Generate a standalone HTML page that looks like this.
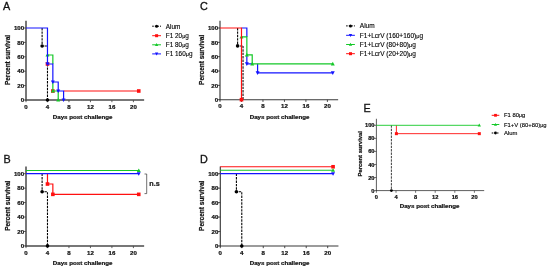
<!DOCTYPE html>
<html lang="en"><head><meta charset="utf-8"><title>Survival curves</title>
<style>
html,body{margin:0;padding:0;background:#fff;}
body{width:550px;height:269px;overflow:hidden;}
svg{display:block;font-family:"Liberation Sans",sans-serif;}
</style></head><body>
<svg width="550" height="269" viewBox="0 0 550 269">
<rect width="550" height="269" fill="#fff"/>
<path d="M26.00 20.80V100.75" stroke="#4a4a4a" stroke-width="1.5" fill="none"/>
<path d="M25.25 100.00H144.14" stroke="#4a4a4a" stroke-width="1.5" fill="none"/>
<path d="M23.80 100.00H26.00" stroke="#4a4a4a" stroke-width="0.9"/>
<text x="24.10" y="102.20" font-size="6.1" font-weight="bold" stroke="#111" stroke-width="0.22" text-anchor="end" fill="#111">0</text>
<path d="M23.80 85.60H26.00" stroke="#4a4a4a" stroke-width="0.9"/>
<text x="24.10" y="87.80" font-size="6.1" font-weight="bold" stroke="#111" stroke-width="0.22" text-anchor="end" fill="#111">20</text>
<path d="M23.80 71.20H26.00" stroke="#4a4a4a" stroke-width="0.9"/>
<text x="24.10" y="73.40" font-size="6.1" font-weight="bold" stroke="#111" stroke-width="0.22" text-anchor="end" fill="#111">40</text>
<path d="M23.80 56.80H26.00" stroke="#4a4a4a" stroke-width="0.9"/>
<text x="24.10" y="59.00" font-size="6.1" font-weight="bold" stroke="#111" stroke-width="0.22" text-anchor="end" fill="#111">60</text>
<path d="M23.80 42.40H26.00" stroke="#4a4a4a" stroke-width="0.9"/>
<text x="24.10" y="44.60" font-size="6.1" font-weight="bold" stroke="#111" stroke-width="0.22" text-anchor="end" fill="#111">80</text>
<path d="M23.80 28.00H26.00" stroke="#4a4a4a" stroke-width="0.9"/>
<text x="24.10" y="30.20" font-size="6.1" font-weight="bold" stroke="#111" stroke-width="0.22" text-anchor="end" fill="#111">100</text>
<path d="M26.00 100.00V102.20" stroke="#4a4a4a" stroke-width="0.9"/>
<text x="26.00" y="108.60" font-size="6.1" font-weight="bold" stroke="#111" stroke-width="0.22" text-anchor="middle" fill="#111">0</text>
<path d="M47.48 100.00V102.20" stroke="#4a4a4a" stroke-width="0.9"/>
<text x="47.48" y="108.60" font-size="6.1" font-weight="bold" stroke="#111" stroke-width="0.22" text-anchor="middle" fill="#111">4</text>
<path d="M68.96 100.00V102.20" stroke="#4a4a4a" stroke-width="0.9"/>
<text x="68.96" y="108.60" font-size="6.1" font-weight="bold" stroke="#111" stroke-width="0.22" text-anchor="middle" fill="#111">8</text>
<path d="M90.44 100.00V102.20" stroke="#4a4a4a" stroke-width="0.9"/>
<text x="90.44" y="108.60" font-size="6.1" font-weight="bold" stroke="#111" stroke-width="0.22" text-anchor="middle" fill="#111">12</text>
<path d="M111.92 100.00V102.20" stroke="#4a4a4a" stroke-width="0.9"/>
<text x="111.92" y="108.60" font-size="6.1" font-weight="bold" stroke="#111" stroke-width="0.22" text-anchor="middle" fill="#111">16</text>
<path d="M133.40 100.00V102.20" stroke="#4a4a4a" stroke-width="0.9"/>
<text x="133.40" y="108.60" font-size="6.1" font-weight="bold" stroke="#111" stroke-width="0.22" text-anchor="middle" fill="#111">20</text>
<text x="82.65" y="119.10" font-size="6.2" font-weight="bold" stroke="#111" stroke-width="0.22" text-anchor="middle" fill="#111">Days post challenge</text>
<text transform="translate(9.80 59.97) rotate(-90)" x="0" y="0" font-size="6.5" font-weight="bold" stroke="#111" stroke-width="0.22" text-anchor="middle" fill="#111">Percent survival</text>
<text x="3.0" y="10.4" font-size="10.8" fill="#111" stroke="#111" stroke-width="0.3">A</text>
<path d="M42.11 28.00L42.11 46.00L47.48 46.00M47.48 64.00L47.48 100.00" fill="none" stroke="#000" stroke-width="1.08" stroke-dasharray="2.4 1"/>
<circle cx="42.11" cy="46.00" r="1.80" fill="#000"/>
<circle cx="47.48" cy="100.00" r="1.80" fill="#000"/>
<path d="M63.59 91.00L138.77 91.00" fill="none" stroke="#ff1010" stroke-width="1.20"/>
<rect x="45.68" y="62.20" width="3.60" height="3.60" fill="#ff1010"/>
<rect x="51.05" y="89.20" width="3.60" height="3.60" fill="#ff1010"/>
<rect x="136.97" y="89.20" width="3.60" height="3.60" fill="#ff1010"/>
<path d="M47.48 55.00L52.85 55.00L52.85 64.00M52.85 82.00L52.85 91.00L58.22 91.00L58.22 100.00" fill="none" stroke="#14c828" stroke-width="1.20"/>
<path d="M47.48 52.93L49.46 56.53L45.50 56.53Z" fill="#14c828"/>
<path d="M52.85 88.93L54.83 92.53L50.87 92.53Z" fill="#14c828"/>
<path d="M58.22 97.93L60.20 101.53L56.24 101.53Z" fill="#14c828"/>
<path d="M26.00 28.00L47.48 28.00L47.48 64.00L52.85 64.00L52.85 82.00L58.22 82.00L58.22 91.00L63.59 91.00L63.59 100.00" fill="none" stroke="#1414ff" stroke-width="1.20"/>
<path d="M47.48 66.07L49.46 62.47L45.50 62.47Z" fill="#1414ff"/>
<path d="M52.85 84.07L54.83 80.47L50.87 80.47Z" fill="#1414ff"/>
<path d="M58.22 93.07L60.20 89.47L56.24 89.47Z" fill="#1414ff"/>
<path d="M63.59 102.07L65.57 98.47L61.61 98.47Z" fill="#1414ff"/>
<path d="M152.20 26.20H161.00" stroke="#000" stroke-width="1" stroke-dasharray="1.6 1"/>
<circle cx="156.60" cy="26.20" r="1.50" fill="#000"/>
<text x="165.8" y="28.50" font-size="6.4" fill="#000" stroke="#000" stroke-width="0.12">Alum</text>
<path d="M152.20 35.70H161.00" stroke="#ff1010" stroke-width="1"/>
<rect x="155.10" y="34.20" width="3.00" height="3.00" fill="#ff1010"/>
<text x="165.8" y="38.00" font-size="6.4" fill="#000" stroke="#000" stroke-width="0.12">F1 20<tspan font-size="5.50">μ</tspan>g</text>
<path d="M152.20 44.80H161.00" stroke="#14c828" stroke-width="1"/>
<path d="M156.60 43.07L158.25 46.07L154.95 46.07Z" fill="#14c828"/>
<text x="165.8" y="47.10" font-size="6.4" fill="#000" stroke="#000" stroke-width="0.12">F1 80<tspan font-size="5.50">μ</tspan>g</text>
<path d="M152.20 53.90H161.00" stroke="#1414ff" stroke-width="1"/>
<path d="M156.60 55.62L158.25 52.62L154.95 52.62Z" fill="#1414ff"/>
<text x="165.8" y="56.20" font-size="6.4" fill="#000" stroke="#000" stroke-width="0.12">F1 160<tspan font-size="5.50">μ</tspan>g</text>
<path d="M220.00 20.83V100.28" stroke="#383838" stroke-width="1.15" fill="none"/>
<path d="M219.43 99.70H338.14" stroke="#383838" stroke-width="1.15" fill="none"/>
<path d="M217.80 99.70H220.00" stroke="#383838" stroke-width="0.9"/>
<text x="218.10" y="101.90" font-size="6.1" font-weight="bold" stroke="#111" stroke-width="0.22" text-anchor="end" fill="#111">0</text>
<path d="M217.80 85.36H220.00" stroke="#383838" stroke-width="0.9"/>
<text x="218.10" y="87.56" font-size="6.1" font-weight="bold" stroke="#111" stroke-width="0.22" text-anchor="end" fill="#111">20</text>
<path d="M217.80 71.02H220.00" stroke="#383838" stroke-width="0.9"/>
<text x="218.10" y="73.22" font-size="6.1" font-weight="bold" stroke="#111" stroke-width="0.22" text-anchor="end" fill="#111">40</text>
<path d="M217.80 56.68H220.00" stroke="#383838" stroke-width="0.9"/>
<text x="218.10" y="58.88" font-size="6.1" font-weight="bold" stroke="#111" stroke-width="0.22" text-anchor="end" fill="#111">60</text>
<path d="M217.80 42.34H220.00" stroke="#383838" stroke-width="0.9"/>
<text x="218.10" y="44.54" font-size="6.1" font-weight="bold" stroke="#111" stroke-width="0.22" text-anchor="end" fill="#111">80</text>
<path d="M217.80 28.00H220.00" stroke="#383838" stroke-width="0.9"/>
<text x="218.10" y="30.20" font-size="6.1" font-weight="bold" stroke="#111" stroke-width="0.22" text-anchor="end" fill="#111">100</text>
<path d="M220.00 99.70V101.90" stroke="#383838" stroke-width="0.9"/>
<text x="220.00" y="108.30" font-size="6.1" font-weight="bold" stroke="#111" stroke-width="0.22" text-anchor="middle" fill="#111">0</text>
<path d="M241.48 99.70V101.90" stroke="#383838" stroke-width="0.9"/>
<text x="241.48" y="108.30" font-size="6.1" font-weight="bold" stroke="#111" stroke-width="0.22" text-anchor="middle" fill="#111">4</text>
<path d="M262.96 99.70V101.90" stroke="#383838" stroke-width="0.9"/>
<text x="262.96" y="108.30" font-size="6.1" font-weight="bold" stroke="#111" stroke-width="0.22" text-anchor="middle" fill="#111">8</text>
<path d="M284.44 99.70V101.90" stroke="#383838" stroke-width="0.9"/>
<text x="284.44" y="108.30" font-size="6.1" font-weight="bold" stroke="#111" stroke-width="0.22" text-anchor="middle" fill="#111">12</text>
<path d="M305.92 99.70V101.90" stroke="#383838" stroke-width="0.9"/>
<text x="305.92" y="108.30" font-size="6.1" font-weight="bold" stroke="#111" stroke-width="0.22" text-anchor="middle" fill="#111">16</text>
<path d="M327.40 99.70V101.90" stroke="#383838" stroke-width="0.9"/>
<text x="327.40" y="108.30" font-size="6.1" font-weight="bold" stroke="#111" stroke-width="0.22" text-anchor="middle" fill="#111">20</text>
<text x="279.60" y="118.80" font-size="6.2" font-weight="bold" stroke="#111" stroke-width="0.22" text-anchor="middle" fill="#111">Days post challenge</text>
<text transform="translate(204.20 59.83) rotate(-90)" x="0" y="0" font-size="6.5" font-weight="bold" stroke="#111" stroke-width="0.22" text-anchor="middle" fill="#111">Percent survival</text>
<text x="199.9" y="10.4" font-size="10.8" fill="#111" stroke="#111" stroke-width="0.3">C</text>
<path d="M237.61 28.00L237.61 45.92L243.25 45.92" fill="none" stroke="#000" stroke-width="1.08" stroke-dasharray="2.4 1"/>
<circle cx="237.61" cy="45.92" r="1.80" fill="#000"/>
<path d="M243.04 45.92L243.04 99.70" fill="none" stroke="#3c3c3c" stroke-width="1.35" stroke-dasharray="2.4 1"/>
<path d="M241.48 28.00L246.85 28.00L246.85 36.96M246.85 54.89L246.85 63.85L252.22 63.85M257.59 63.85L257.59 72.81L332.77 72.81" fill="none" stroke="#1414ff" stroke-width="1.20"/>
<path d="M246.85 65.92L248.83 62.32L244.87 62.32Z" fill="#1414ff"/>
<path d="M257.59 74.88L259.57 71.28L255.61 71.28Z" fill="#1414ff"/>
<path d="M332.77 74.88L334.75 71.28L330.79 71.28Z" fill="#1414ff"/>
<path d="M241.48 36.96L246.85 36.96L246.85 54.89L252.22 54.89L252.22 63.85L332.77 63.85" fill="none" stroke="#14c828" stroke-width="1.20"/>
<path d="M241.48 34.89L243.46 38.49L239.50 38.49Z" fill="#14c828"/>
<path d="M246.85 52.82L248.83 56.42L244.87 56.42Z" fill="#14c828"/>
<path d="M252.22 61.78L254.20 65.38L250.24 65.38Z" fill="#14c828"/>
<path d="M332.77 61.78L334.75 65.38L330.79 65.38Z" fill="#14c828"/>
<path d="M220.00 28.00L241.48 28.00L241.48 99.70" fill="none" stroke="#ff1010" stroke-width="1.20"/>
<rect x="239.68" y="97.90" width="3.60" height="3.60" fill="#ff1010"/>
<path d="M346.10 25.90H354.90" stroke="#000" stroke-width="1" stroke-dasharray="1.6 1"/>
<circle cx="350.50" cy="25.90" r="1.50" fill="#000"/>
<text x="359.8" y="28.24" font-size="6.5" fill="#000" stroke="#000" stroke-width="0.12">Alum</text>
<path d="M346.10 35.30H354.90" stroke="#1414ff" stroke-width="1"/>
<path d="M350.50 37.02L352.15 34.02L348.85 34.02Z" fill="#1414ff"/>
<text x="359.8" y="37.64" font-size="6.5" fill="#000" stroke="#000" stroke-width="0.12">F1+LcrV (160+160)<tspan font-size="5.59">μ</tspan>g</text>
<path d="M346.10 44.50H354.90" stroke="#14c828" stroke-width="1"/>
<path d="M350.50 42.77L352.15 45.77L348.85 45.77Z" fill="#14c828"/>
<text x="359.8" y="46.84" font-size="6.5" fill="#000" stroke="#000" stroke-width="0.12">F1+LcrV (80+80)<tspan font-size="5.59">μ</tspan>g</text>
<path d="M346.10 53.70H354.90" stroke="#ff1010" stroke-width="1"/>
<rect x="349.00" y="52.20" width="3.00" height="3.00" fill="#ff1010"/>
<text x="359.8" y="56.04" font-size="6.5" fill="#000" stroke="#000" stroke-width="0.12">F1+LcrV (20+20)<tspan font-size="5.59">μ</tspan>g</text>
<path d="M26.00 166.48V246.65" stroke="#4a4a4a" stroke-width="1.5" fill="none"/>
<path d="M25.25 245.90H144.14" stroke="#4a4a4a" stroke-width="1.5" fill="none"/>
<path d="M23.80 245.90H26.00" stroke="#4a4a4a" stroke-width="0.9"/>
<text x="24.10" y="248.10" font-size="6.1" font-weight="bold" stroke="#111" stroke-width="0.22" text-anchor="end" fill="#111">0</text>
<path d="M23.80 231.46H26.00" stroke="#4a4a4a" stroke-width="0.9"/>
<text x="24.10" y="233.66" font-size="6.1" font-weight="bold" stroke="#111" stroke-width="0.22" text-anchor="end" fill="#111">20</text>
<path d="M23.80 217.02H26.00" stroke="#4a4a4a" stroke-width="0.9"/>
<text x="24.10" y="219.22" font-size="6.1" font-weight="bold" stroke="#111" stroke-width="0.22" text-anchor="end" fill="#111">40</text>
<path d="M23.80 202.58H26.00" stroke="#4a4a4a" stroke-width="0.9"/>
<text x="24.10" y="204.78" font-size="6.1" font-weight="bold" stroke="#111" stroke-width="0.22" text-anchor="end" fill="#111">60</text>
<path d="M23.80 188.14H26.00" stroke="#4a4a4a" stroke-width="0.9"/>
<text x="24.10" y="190.34" font-size="6.1" font-weight="bold" stroke="#111" stroke-width="0.22" text-anchor="end" fill="#111">80</text>
<path d="M23.80 173.70H26.00" stroke="#4a4a4a" stroke-width="0.9"/>
<text x="24.10" y="175.90" font-size="6.1" font-weight="bold" stroke="#111" stroke-width="0.22" text-anchor="end" fill="#111">100</text>
<path d="M26.00 245.90V248.10" stroke="#4a4a4a" stroke-width="0.9"/>
<text x="26.00" y="254.50" font-size="6.1" font-weight="bold" stroke="#111" stroke-width="0.22" text-anchor="middle" fill="#111">0</text>
<path d="M47.48 245.90V248.10" stroke="#4a4a4a" stroke-width="0.9"/>
<text x="47.48" y="254.50" font-size="6.1" font-weight="bold" stroke="#111" stroke-width="0.22" text-anchor="middle" fill="#111">4</text>
<path d="M68.96 245.90V248.10" stroke="#4a4a4a" stroke-width="0.9"/>
<text x="68.96" y="254.50" font-size="6.1" font-weight="bold" stroke="#111" stroke-width="0.22" text-anchor="middle" fill="#111">8</text>
<path d="M90.44 245.90V248.10" stroke="#4a4a4a" stroke-width="0.9"/>
<text x="90.44" y="254.50" font-size="6.1" font-weight="bold" stroke="#111" stroke-width="0.22" text-anchor="middle" fill="#111">12</text>
<path d="M111.92 245.90V248.10" stroke="#4a4a4a" stroke-width="0.9"/>
<text x="111.92" y="254.50" font-size="6.1" font-weight="bold" stroke="#111" stroke-width="0.22" text-anchor="middle" fill="#111">16</text>
<path d="M133.40 245.90V248.10" stroke="#4a4a4a" stroke-width="0.9"/>
<text x="133.40" y="254.50" font-size="6.1" font-weight="bold" stroke="#111" stroke-width="0.22" text-anchor="middle" fill="#111">20</text>
<text x="82.65" y="265.00" font-size="6.2" font-weight="bold" stroke="#111" stroke-width="0.22" text-anchor="middle" fill="#111">Days post challenge</text>
<text transform="translate(9.80 205.76) rotate(-90)" x="0" y="0" font-size="6.5" font-weight="bold" stroke="#111" stroke-width="0.22" text-anchor="middle" fill="#111">Percent survival</text>
<text x="3.6" y="163.1" font-size="10.8" fill="#111" stroke="#111" stroke-width="0.3">B</text>
<path d="M42.11 173.70L42.11 191.75L47.48 191.75L47.48 245.90" fill="none" stroke="#000" stroke-width="1.08" stroke-dasharray="2.4 1"/>
<circle cx="42.11" cy="191.75" r="1.80" fill="#000"/>
<circle cx="47.48" cy="245.90" r="1.80" fill="#000"/>
<path d="M47.48 173.70L47.48 184.02L52.85 184.02L52.85 194.35L138.77 194.35" fill="none" stroke="#ff1010" stroke-width="1.20"/>
<rect x="45.68" y="182.22" width="3.60" height="3.60" fill="#ff1010"/>
<rect x="51.05" y="192.55" width="3.60" height="3.60" fill="#ff1010"/>
<rect x="136.97" y="192.55" width="3.60" height="3.60" fill="#ff1010"/>
<path d="M26.00 170.52L138.77 170.52" fill="none" stroke="#14c828" stroke-width="1.20"/>
<path d="M138.77 168.45L140.75 172.05L136.79 172.05Z" fill="#14c828"/>
<path d="M26.00 173.70L138.77 173.70" fill="none" stroke="#1414ff" stroke-width="1.20"/>
<path d="M138.77 175.77L140.75 172.17L136.79 172.17Z" fill="#1414ff"/>
<path d="M144.5 174H146.7V193.6H144.5" fill="none" stroke="#333" stroke-width="0.7"/>
<text x="149.3" y="186.2" font-size="7.2" font-weight="bold" stroke="#111" stroke-width="0.22" fill="#222">n.s</text>
<path d="M220.30 166.47V246.52" stroke="#383838" stroke-width="1.15" fill="none"/>
<path d="M219.73 245.95H338.44" stroke="#383838" stroke-width="1.15" fill="none"/>
<path d="M218.10 245.95H220.30" stroke="#383838" stroke-width="0.9"/>
<text x="218.40" y="248.15" font-size="6.1" font-weight="bold" stroke="#111" stroke-width="0.22" text-anchor="end" fill="#111">0</text>
<path d="M218.10 231.50H220.30" stroke="#383838" stroke-width="0.9"/>
<text x="218.40" y="233.70" font-size="6.1" font-weight="bold" stroke="#111" stroke-width="0.22" text-anchor="end" fill="#111">20</text>
<path d="M218.10 217.05H220.30" stroke="#383838" stroke-width="0.9"/>
<text x="218.40" y="219.25" font-size="6.1" font-weight="bold" stroke="#111" stroke-width="0.22" text-anchor="end" fill="#111">40</text>
<path d="M218.10 202.60H220.30" stroke="#383838" stroke-width="0.9"/>
<text x="218.40" y="204.80" font-size="6.1" font-weight="bold" stroke="#111" stroke-width="0.22" text-anchor="end" fill="#111">60</text>
<path d="M218.10 188.15H220.30" stroke="#383838" stroke-width="0.9"/>
<text x="218.40" y="190.35" font-size="6.1" font-weight="bold" stroke="#111" stroke-width="0.22" text-anchor="end" fill="#111">80</text>
<path d="M218.10 173.70H220.30" stroke="#383838" stroke-width="0.9"/>
<text x="218.40" y="175.90" font-size="6.1" font-weight="bold" stroke="#111" stroke-width="0.22" text-anchor="end" fill="#111">100</text>
<path d="M220.30 245.95V248.15" stroke="#383838" stroke-width="0.9"/>
<text x="220.30" y="254.55" font-size="6.1" font-weight="bold" stroke="#111" stroke-width="0.22" text-anchor="middle" fill="#111">0</text>
<path d="M241.78 245.95V248.15" stroke="#383838" stroke-width="0.9"/>
<text x="241.78" y="254.55" font-size="6.1" font-weight="bold" stroke="#111" stroke-width="0.22" text-anchor="middle" fill="#111">4</text>
<path d="M263.26 245.95V248.15" stroke="#383838" stroke-width="0.9"/>
<text x="263.26" y="254.55" font-size="6.1" font-weight="bold" stroke="#111" stroke-width="0.22" text-anchor="middle" fill="#111">8</text>
<path d="M284.74 245.95V248.15" stroke="#383838" stroke-width="0.9"/>
<text x="284.74" y="254.55" font-size="6.1" font-weight="bold" stroke="#111" stroke-width="0.22" text-anchor="middle" fill="#111">12</text>
<path d="M306.22 245.95V248.15" stroke="#383838" stroke-width="0.9"/>
<text x="306.22" y="254.55" font-size="6.1" font-weight="bold" stroke="#111" stroke-width="0.22" text-anchor="middle" fill="#111">16</text>
<path d="M327.70 245.95V248.15" stroke="#383838" stroke-width="0.9"/>
<text x="327.70" y="254.55" font-size="6.1" font-weight="bold" stroke="#111" stroke-width="0.22" text-anchor="middle" fill="#111">20</text>
<text x="279.60" y="265.05" font-size="6.2" font-weight="bold" stroke="#111" stroke-width="0.22" text-anchor="middle" fill="#111">Days post challenge</text>
<text transform="translate(204.40 205.78) rotate(-90)" x="0" y="0" font-size="6.5" font-weight="bold" stroke="#111" stroke-width="0.22" text-anchor="middle" fill="#111">Percent survival</text>
<text x="200.1" y="163.2" font-size="10.8" fill="#111" stroke="#111" stroke-width="0.3">D</text>
<path d="M236.41 173.70L236.41 191.76L241.78 191.76L241.78 245.95" fill="none" stroke="#000" stroke-width="1.08" stroke-dasharray="2.4 1"/>
<circle cx="236.41" cy="191.76" r="1.80" fill="#000"/>
<circle cx="241.78" cy="245.95" r="1.80" fill="#000"/>
<path d="M220.30 166.76L333.07 166.76" fill="none" stroke="#ff1010" stroke-width="1.20"/>
<rect x="331.27" y="164.96" width="3.60" height="3.60" fill="#ff1010"/>
<path d="M220.30 170.23L333.07 170.23" fill="none" stroke="#14c828" stroke-width="1.20"/>
<path d="M333.07 168.16L335.05 171.76L331.09 171.76Z" fill="#14c828"/>
<path d="M220.30 173.70L333.07 173.70" fill="none" stroke="#1414ff" stroke-width="1.20"/>
<path d="M333.07 175.77L335.05 172.17L331.09 172.17Z" fill="#1414ff"/>
<path d="M376.40 118.77V191.00" stroke="#333" stroke-width="0.8" fill="none"/>
<path d="M376.00 190.60H484.20" stroke="#333" stroke-width="0.8" fill="none"/>
<path d="M374.20 190.60H376.40" stroke="#333" stroke-width="0.7"/>
<text x="374.50" y="192.65" font-size="5.7" font-weight="bold" stroke="#111" stroke-width="0.22" text-anchor="end" fill="#111">0</text>
<path d="M374.20 177.54H376.40" stroke="#333" stroke-width="0.7"/>
<text x="374.50" y="179.59" font-size="5.7" font-weight="bold" stroke="#111" stroke-width="0.22" text-anchor="end" fill="#111">20</text>
<path d="M374.20 164.48H376.40" stroke="#333" stroke-width="0.7"/>
<text x="374.50" y="166.53" font-size="5.7" font-weight="bold" stroke="#111" stroke-width="0.22" text-anchor="end" fill="#111">40</text>
<path d="M374.20 151.42H376.40" stroke="#333" stroke-width="0.7"/>
<text x="374.50" y="153.47" font-size="5.7" font-weight="bold" stroke="#111" stroke-width="0.22" text-anchor="end" fill="#111">60</text>
<path d="M374.20 138.36H376.40" stroke="#333" stroke-width="0.7"/>
<text x="374.50" y="140.41" font-size="5.7" font-weight="bold" stroke="#111" stroke-width="0.22" text-anchor="end" fill="#111">80</text>
<path d="M374.20 125.30H376.40" stroke="#333" stroke-width="0.7"/>
<text x="374.50" y="127.35" font-size="5.7" font-weight="bold" stroke="#111" stroke-width="0.22" text-anchor="end" fill="#111">100</text>
<path d="M376.40 190.60V192.80" stroke="#333" stroke-width="0.7"/>
<text x="376.40" y="198.55" font-size="5.7" font-weight="bold" stroke="#111" stroke-width="0.22" text-anchor="middle" fill="#111">0</text>
<path d="M396.00 190.60V192.80" stroke="#333" stroke-width="0.7"/>
<text x="396.00" y="198.55" font-size="5.7" font-weight="bold" stroke="#111" stroke-width="0.22" text-anchor="middle" fill="#111">4</text>
<path d="M415.60 190.60V192.80" stroke="#333" stroke-width="0.7"/>
<text x="415.60" y="198.55" font-size="5.7" font-weight="bold" stroke="#111" stroke-width="0.22" text-anchor="middle" fill="#111">8</text>
<path d="M435.20 190.60V192.80" stroke="#333" stroke-width="0.7"/>
<text x="435.20" y="198.55" font-size="5.7" font-weight="bold" stroke="#111" stroke-width="0.22" text-anchor="middle" fill="#111">12</text>
<path d="M454.80 190.60V192.80" stroke="#333" stroke-width="0.7"/>
<text x="454.80" y="198.55" font-size="5.7" font-weight="bold" stroke="#111" stroke-width="0.22" text-anchor="middle" fill="#111">16</text>
<path d="M474.40 190.60V192.80" stroke="#333" stroke-width="0.7"/>
<text x="474.40" y="198.55" font-size="5.7" font-weight="bold" stroke="#111" stroke-width="0.22" text-anchor="middle" fill="#111">20</text>
<text x="429.60" y="208.40" font-size="6.2" font-weight="bold" stroke="#111" stroke-width="0.22" text-anchor="middle" fill="#111">Days post challenge</text>
<text transform="translate(361.60 153.80) rotate(-90)" x="0" y="0" font-size="5.9" font-weight="bold" stroke="#111" stroke-width="0.22" text-anchor="middle" fill="#111">Percent survival</text>
<text x="363.6" y="112.3" font-size="10.8" fill="#111" stroke="#111" stroke-width="0.3">E</text>
<path d="M391.39 125.30L391.39 190.60" fill="none" stroke="#000" stroke-width="0.77" stroke-dasharray="2.4 1"/>
<circle cx="391.39" cy="190.60" r="1.45" fill="#000"/>
<path d="M396.39 125.30L396.39 133.66L479.30 133.66" fill="none" stroke="#ff1010" stroke-width="0.90"/>
<rect x="394.89" y="132.16" width="3.00" height="3.00" fill="#ff1010"/>
<rect x="477.80" y="132.16" width="3.00" height="3.00" fill="#ff1010"/>
<path d="M376.40 125.30L479.30 125.30" fill="none" stroke="#14c828" stroke-width="0.90"/>
<path d="M479.30 123.58L480.95 126.58L477.65 126.58Z" fill="#14c828"/>
<path d="M491.70 115.30H499.30" stroke="#ff1010" stroke-width="1"/>
<rect x="494.10" y="113.90" width="2.80" height="2.80" fill="#ff1010"/>
<text x="503.9" y="117.42" font-size="5.9" fill="#000" stroke="#000" stroke-width="0.12">F1 80<tspan font-size="5.07">μ</tspan>g</text>
<path d="M491.70 124.50H499.30" stroke="#14c828" stroke-width="1"/>
<path d="M495.50 122.89L497.04 125.69L493.96 125.69Z" fill="#14c828"/>
<text x="503.9" y="126.62" font-size="5.9" fill="#000" stroke="#000" stroke-width="0.12">F1+V (80+80)<tspan font-size="5.07">μ</tspan>g</text>
<path d="M491.70 133.00H499.30" stroke="#000" stroke-width="1" stroke-dasharray="1.6 1"/>
<circle cx="495.50" cy="133.00" r="1.40" fill="#000"/>
<text x="503.9" y="135.12" font-size="5.9" fill="#000" stroke="#000" stroke-width="0.12">Alum</text>
</svg>
</body></html>
